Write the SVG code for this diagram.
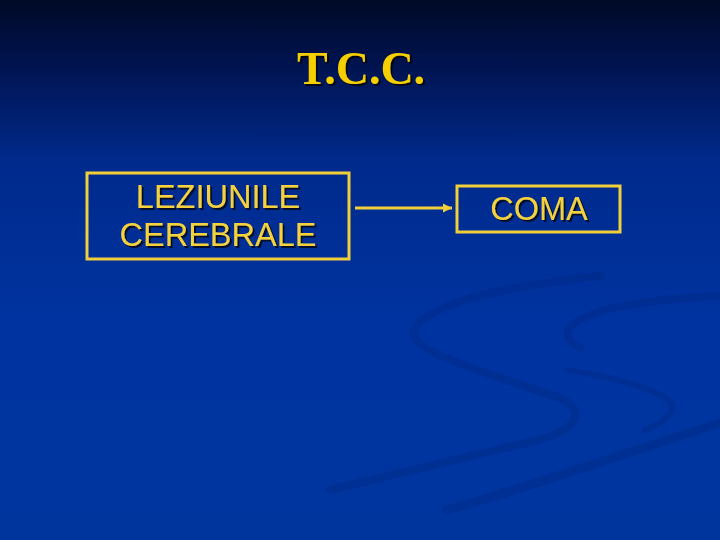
<svg xmlns="http://www.w3.org/2000/svg" width="720" height="540" viewBox="0 0 720 540">
<defs>
<linearGradient id="bg" x1="0" y1="0" x2="0" y2="1">
<stop offset="0" stop-color="#000a26"/>
<stop offset="0.12" stop-color="#001350"/>
<stop offset="0.3" stop-color="#002a8c"/>
<stop offset="0.6" stop-color="#0033a0"/>
<stop offset="1" stop-color="#00359e"/>
</linearGradient>
<marker id="ah" markerWidth="10" markerHeight="10" refX="9" refY="5" orient="auto" markerUnits="userSpaceOnUse">
<path d="M0,0.5 L9,5 L0,9.5 Z" fill="#f0cf3a"/>
</marker>
<filter id="sh" x="-10%" y="-10%" width="130%" height="130%">
<feDropShadow dx="2" dy="2" stdDeviation="0.6" flood-color="#000" flood-opacity="0.7"/>
</filter>
</defs>
<style>
.box{fill:none;stroke:#f0cf3a;stroke-width:3}
.lbl{font-family:"Liberation Sans",Arial,sans-serif;font-size:32.5px;fill:#f5d23c;text-anchor:middle;filter:url(#sh)}
.sw{fill:none;stroke:#00247a;stroke-opacity:0.3;stroke-linecap:round}
</style>
<rect width="720" height="540" fill="url(#bg)"/>
<g id="swooshes">
<path class="sw" stroke-width="8" d="M600,276 C520,285 430,300 414,330 C405,350 480,370 560,398 C590,412 575,432 530,442 C470,456 420,468 330,490"/>
<path class="sw" stroke-width="8" d="M717,296 C640,300 580,310 568,330 C566,338 572,344 580,347"/>
<path class="sw" stroke-width="6" d="M567,370 C620,378 680,395 672,410 C668,420 655,426 645,430"/>
<path class="sw" stroke-width="9" d="M720,423 C620,455 520,490 447,510"/>
</g>
<g id="title">
<text x="361" y="84" font-family="'Liberation Serif','Times New Roman',serif" font-size="46" font-weight="bold" fill="#f5cf00" text-anchor="middle" filter="url(#sh)">T.C.C.</text>
</g>
<g id="leziuni">
<rect class="box" x="87" y="173" width="262" height="86"/>
<text class="lbl" x="218" y="208">LEZIUNILE</text>
<text class="lbl" x="218" y="246">CEREBRALE</text>
</g>
<g id="coma">
<rect class="box" x="457" y="186" width="163" height="46"/>
<text class="lbl" x="539" y="220">COMA</text>
</g>
<g id="connectors">
<line x1="355" y1="208" x2="452" y2="208" stroke="#f0cf3a" stroke-width="3" marker-end="url(#ah)"/>
</g>
</svg>
